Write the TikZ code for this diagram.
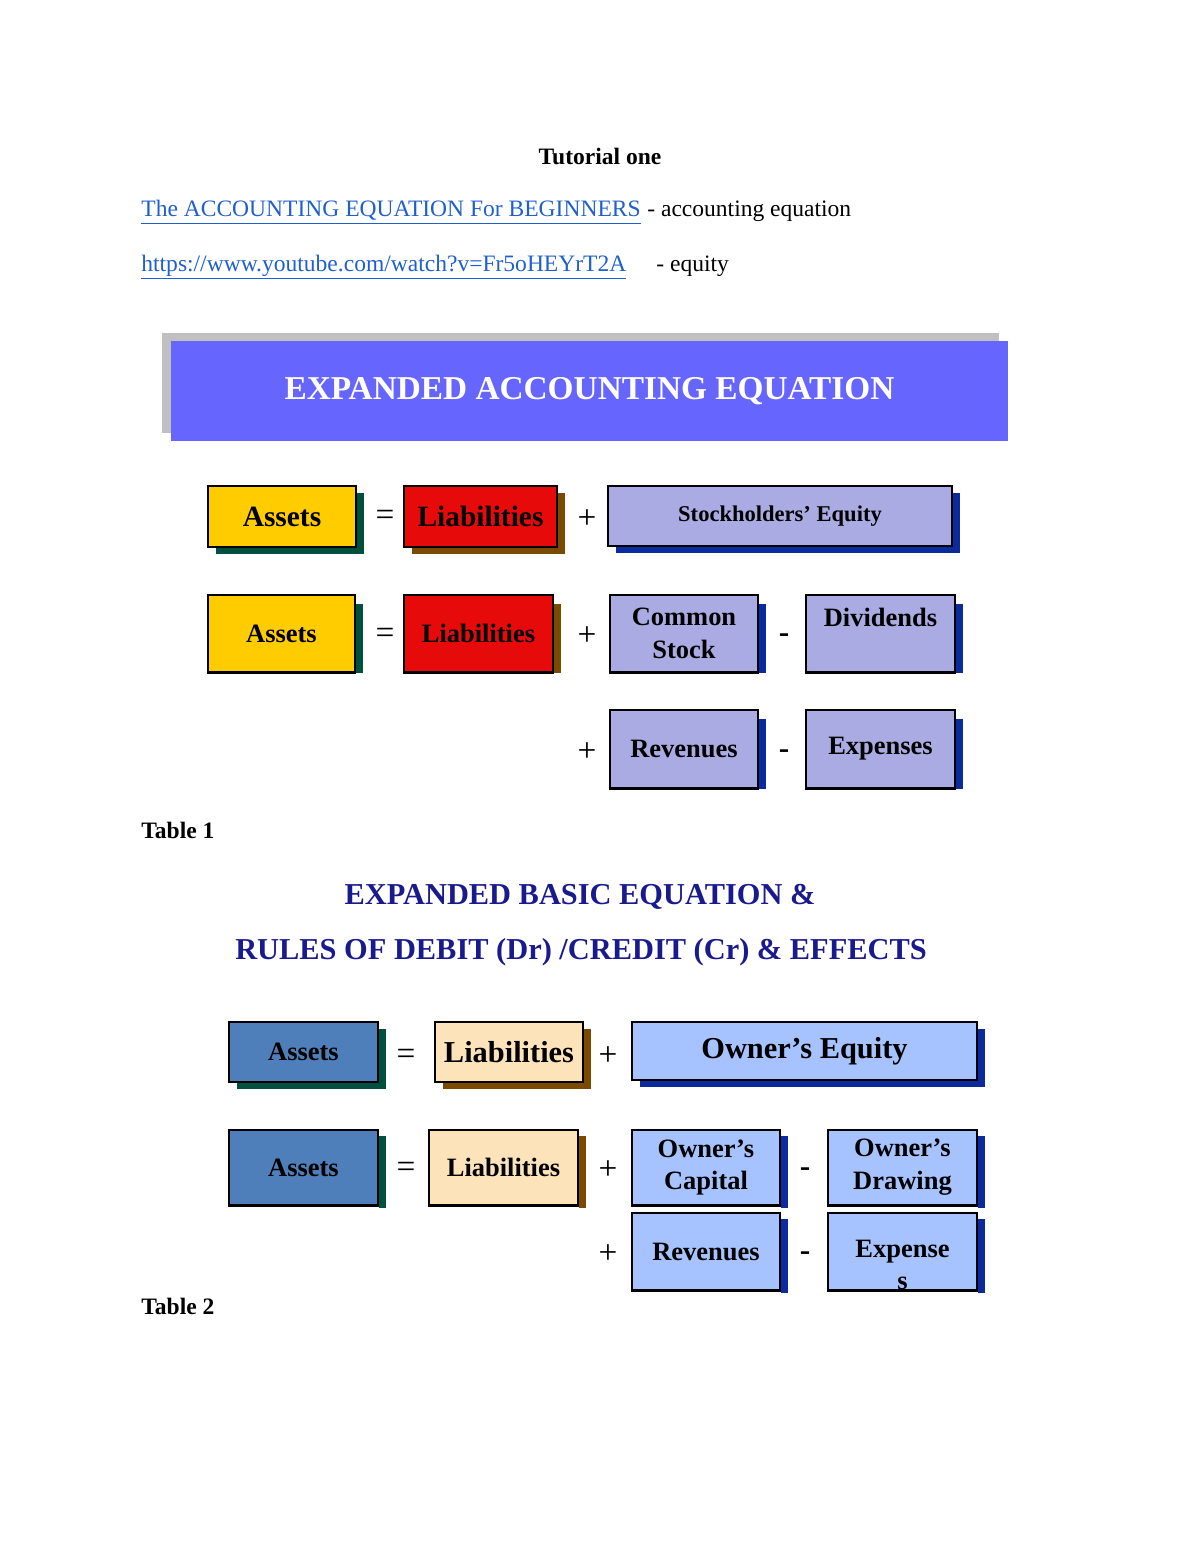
\documentclass[tikz,border=0pt]{standalone}
\usepackage{fontspec}
\setmainfont{Liberation Serif}
\usetikzlibrary{shadows,calc}

\definecolor{titleblue}{HTML}{6666FF}
\definecolor{framegray}{HTML}{C0C0C0}
\definecolor{assetyellow}{HTML}{FFCC00}
\definecolor{darkgreen}{HTML}{00503F}
\definecolor{liabred}{HTML}{E60A0A}
\definecolor{liabbrown}{HTML}{7A4A00}
\definecolor{lavender}{HTML}{ABABE3}
\definecolor{navyshadow}{HTML}{0A2A9E}
\definecolor{steelblue}{HTML}{4F7FBA}
\definecolor{wheat}{HTML}{FDE3BA}
\definecolor{lightblue}{HTML}{A6C3FF}
\definecolor{headnavy}{HTML}{1A1A8F}
\definecolor{linkblue}{HTML}{1F5FD0}

\def\pu{0.51pt}

\begin{document}
\begin{tikzpicture}[x=0.51pt,y=-0.51pt,
  every node/.style={inner sep=0pt},
  body/.style={font=\fontsize{12}{14}\selectfont},
  eqbox/.style={draw=black,line width=0.6pt,align=center,font=\bfseries\fontsize{13.5}{16.8}\selectfont},
  fullshadow/.style={drop shadow={shadow xshift=4.1pt,shadow yshift=-3.6pt,fill=#1,opacity=1}},
  sign/.style={font=\fontsize{17}{20}\selectfont},
  minus/.style={font=\bfseries\fontsize{16}{20}\selectfont},
  botline/.style={line width=1.6pt}]
\useasboundingbox (0,0) rectangle (1200,1553);

\node[body,font=\bfseries\fontsize{12}{14}\selectfont] (tut) at (600,156) {Tutorial one};
\node[body,anchor=base west,text=linkblue] (link1) at (141,217) {\underline{The ACCOUNTING EQUATION For BEGINNERS}};
\node[body,anchor=base west] (desc1) at (link1.base east) {\ - accounting equation};
\node[body,anchor=base west,text=linkblue] (link2) at (141,271) {\underline{https://www.youtube.com/watch?v=Fr5oHEYrT2A}};
\node[body,anchor=base west] (desc2) at (link2.base east) {\quad\ - equity};

\node[fill=titleblue,minimum width=837*\pu,minimum height=100*\pu,text=white,
  font=\bfseries\fontsize{17}{20}\selectfont,
  drop shadow={shadow xshift=-4.6pt,shadow yshift=4.1pt,fill=framegray,opacity=1}] (title1) at (589.5,391) {EXPANDED ACCOUNTING EQUATION};

\node[eqbox,fill=assetyellow,fullshadow=darkgreen,minimum width=148*\pu,minimum height=61*\pu,font=\bfseries\fontsize{15}{18}\selectfont] (assets1) at (282,516.5) {Assets};
\node[sign] (eqA) at (385,518) {=};
\node[eqbox,fill=liabred,fullshadow=liabbrown,minimum width=153*\pu,minimum height=61*\pu,font=\bfseries\fontsize{15}{18}\selectfont] (liab1) at (480.5,516.5) {Liabilities};
\node[sign] (plusA) at (587,519) {+};
\node[eqbox,fill=lavender,fullshadow=navyshadow,minimum width=344*\pu,minimum height=60*\pu,font=\bfseries\fontsize{11.5}{14}\selectfont] (stock1) at (780,516) {Stockholders’ Equity};

\node[eqbox,fill=assetyellow,minimum width=147*\pu,minimum height=77*\pu] (assets2) at (281.5,633.5) {Assets};
\node[sign] (eqB) at (385,636) {=};
\node[eqbox,fill=liabred,minimum width=149*\pu,minimum height=77*\pu] (liab2) at (478.5,633.5) {Liabilities};
\node[sign] (plusB) at (587,636) {+};
\node[eqbox,fill=lavender,minimum width=148*\pu,minimum height=77*\pu] (common) at (684,633.5) {Common\\Stock};
\node[minus] (minusB) at (784,638) {-};
\node[eqbox,fill=lavender,minimum width=149*\pu,minimum height=77*\pu] (divid) at (880.5,633.5) {Dividends\\\phantom{Stock}};
\node[sign] (plusC) at (587,752) {+};
\node[eqbox,fill=lavender,minimum width=148*\pu,minimum height=78*\pu] (reven1) at (684,749) {Revenues};
\node[minus] (minusC) at (784,754) {-};
\node[eqbox,fill=lavender,minimum width=149*\pu,minimum height=78*\pu] (expen1) at (880.5,749) {Expenses};

\fill[darkgreen] ($(assets2.north east)+(0,10)$) rectangle ($(assets2.south east)+(7,0)$);
\fill[liabbrown] ($(liab2.north east)+(0,10)$) rectangle ($(liab2.south east)+(7,0)$);
\foreach \b in {common,divid,reven1,expen1}
  \fill[navyshadow] ($(\b.north east)+(0,10)$) rectangle ($(\b.south east)+(7,0)$);
\foreach \b in {assets2,liab2,common,divid,reven1,expen1}
  \draw[botline] (\b.south west) -- (\b.south east);

\node[body,anchor=west,font=\bfseries\fontsize{12}{14}\selectfont] (tab1) at (141,830) {Table 1};

\node[text=headnavy,font=\bfseries\fontsize{15.5}{18}\selectfont] (head2a) at (580,897) {EXPANDED BASIC EQUATION \&};
\node[text=headnavy,font=\bfseries\fontsize{15.5}{18}\selectfont] (head2b) at (581,952) {RULES OF DEBIT (Dr) /CREDIT (Cr) \& EFFECTS};

\node[eqbox,fill=steelblue,fullshadow=darkgreen,minimum width=149*\pu,minimum height=60*\pu] (assets3) at (303.5,1052) {Assets};
\node[sign] (eqD) at (406,1057) {=};
\node[eqbox,fill=wheat,fullshadow=liabbrown,minimum width=148*\pu,minimum height=60*\pu,font=\bfseries\fontsize{15.5}{18}\selectfont] (liab3) at (509,1052) {Liabilities};
\node[sign] (plusD) at (608,1056) {+};
\node[eqbox,fill=lightblue,fullshadow=navyshadow,minimum width=345*\pu,minimum height=58*\pu,font=\bfseries\fontsize{15.5}{18}\selectfont] (ownereq) at (804.5,1051) {Owner’s Equity};

\node[eqbox,fill=steelblue,minimum width=149*\pu,minimum height=75*\pu] (assets4) at (303.5,1167.5) {Assets};
\node[sign] (eqE) at (406,1170) {=};
\node[eqbox,fill=wheat,minimum width=149*\pu,minimum height=75*\pu] (liab4) at (503.5,1167.5) {Liabilities};
\node[sign] (plusE) at (608,1170) {+};
\node[eqbox,fill=lightblue,minimum width=148*\pu,minimum height=75*\pu] (capital) at (706,1167.5) {Owner’s\\Capital};
\node[minus] (minusE) at (805,1172) {-};
\node[eqbox,fill=lightblue,minimum width=149*\pu,minimum height=75*\pu] (drawing) at (902.5,1167.5) {Owner’s\\Drawing};
\node[sign] (plusF) at (608,1254) {+};
\node[eqbox,fill=lightblue,minimum width=148*\pu,minimum height=77*\pu] (reven2) at (706,1251.5) {Revenues};
\node[minus] (minusF) at (805,1256) {-};
\node[eqbox,fill=lightblue,minimum width=149*\pu,minimum height=77*\pu] (expen2) at (902.5,1251.5) {Expense};
\node[font=\bfseries\fontsize{13.5}{16}\selectfont] (expens) at (902.5,1283) {s};

\fill[darkgreen] ($(assets4.north east)+(0,7)$) rectangle ($(assets4.south east)+(7,2)$);
\fill[liabbrown] ($(liab4.north east)+(0,7)$) rectangle ($(liab4.south east)+(7,2)$);
\foreach \b in {capital,drawing,reven2,expen2}
  \fill[navyshadow] ($(\b.north east)+(0,7)$) rectangle ($(\b.south east)+(7,2)$);
\foreach \b in {assets4,liab4,capital,drawing,reven2,expen2}
  \draw[botline] (\b.south west) -- (\b.south east);

\node[body,anchor=west,font=\bfseries\fontsize{12}{14}\selectfont] (tab2) at (141,1306) {Table 2};
\end{tikzpicture}
\end{document}
